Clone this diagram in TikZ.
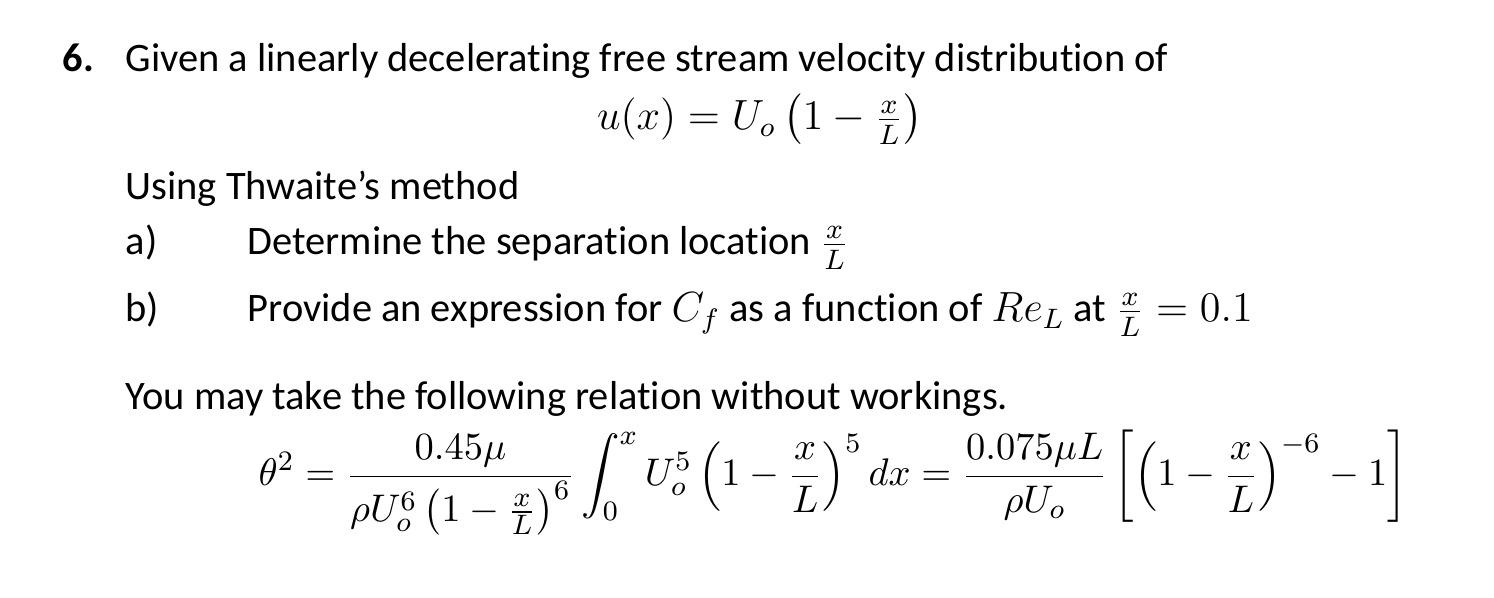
\documentclass[tikz,border=0pt]{standalone}
\usepackage{amsmath}
\usepackage{fontspec}
\setmainfont[RawFeature=-liga]{Carlito}
\begin{document}
\begin{tikzpicture}[x=0.01cm,y=-0.01cm,
  t/.style={anchor=base west,inner sep=0pt,font=\fontsize{11.5}{14}\selectfont}]
\useasboundingbox (0,0) rectangle (1494,598);
\node[t] (n6) at (62,72) {\textbf{6.}};
\node[t] (l1) at (125,72) {Given a linearly decelerating free stream velocity distribution of};
\node[t,anchor=base,font=\fontsize{12}{14}\selectfont] (eq1) at (760,130) {$u(x)=U_o\left(1-\frac{x}{L}\right)$};
\node[t] (l2) at (125,200) {Using Thwaite’s method};
\node[t] (a) at (125,255) {a)};
\node[t] (at) at (247,255) {Determine the separation location $\frac{x}{L}$};
\node[t] (b) at (125,322) {b)};
\node[t] (bt) at (247,322) {Provide an expression for $C_f$ as a function of $Re_L$ at $\frac{x}{L}=0.1$};
\node[t] (l3) at (125,410) {You may take the following relation without workings.};
\node[t,font=\fontsize{11}{13}\selectfont] (eq2) at (258,486) {$\displaystyle \theta^2=\frac{0.45\mu}{\rho U_o^6\left(1-\frac{x}{L}\right)^6}\int_0^x U_o^5\left(1-\frac{x}{L}\right)^5dx=\frac{0.075\mu L}{\rho U_o}\left[\left(1-\frac{x}{L}\right)^{-6}-1\right]$};
\end{tikzpicture}
\end{document}
